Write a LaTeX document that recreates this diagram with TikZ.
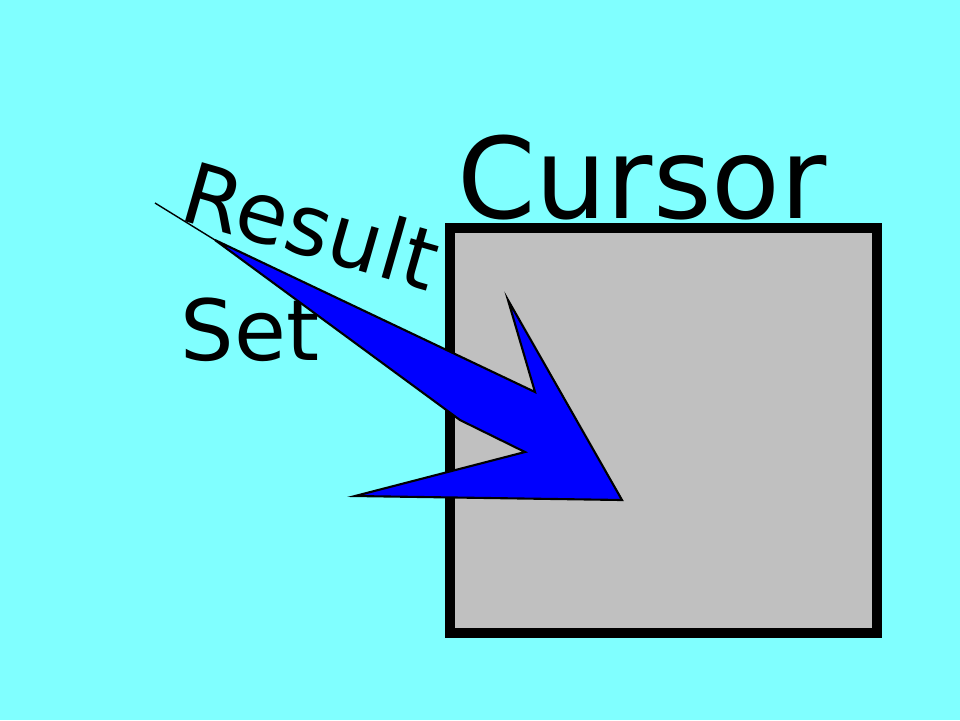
\documentclass[tikz,border=0pt]{standalone}
\usepackage{fontspec}
\setmainfont{DejaVu Sans}
\definecolor{sky}{HTML}{80FFFF}
\definecolor{boxgray}{HTML}{C0C0C0}
\definecolor{arrowblue}{HTML}{0000FF}
\tikzset{
    label text/.style={font=\fontsize{32}{32}\selectfont, inner sep=0pt},
    small text/.style={font=\fontsize{24}{24}\selectfont, inner sep=0pt}}
\begin{document}
\begin{tikzpicture}[x=0.01cm,y=-0.01cm]
    \fill[sky] (0,0) rectangle (960,720);
    \useasboundingbox (0,0) rectangle (960,720);
    % cursor box
    \draw[line width=0.1cm, fill=boxgray] (450,228) rectangle (877,633);
    \node[label text] (cursor) at (642,178) {Cursor};
    \node[small text, rotate=-16] (result) at (312,225) {Result};
    \node[small text] (set) at (250,330) {Set};
    % arrow
    \draw[thin] (155,203) -- (215,240);
    \draw[fill=arrowblue, line width=0.6pt]
        (215,240) -- (535,392) -- (508,300) -- (622,500)
        -- (355,496) -- (525,452) -- (460,420) -- cycle;
\end{tikzpicture}
\end{document}
